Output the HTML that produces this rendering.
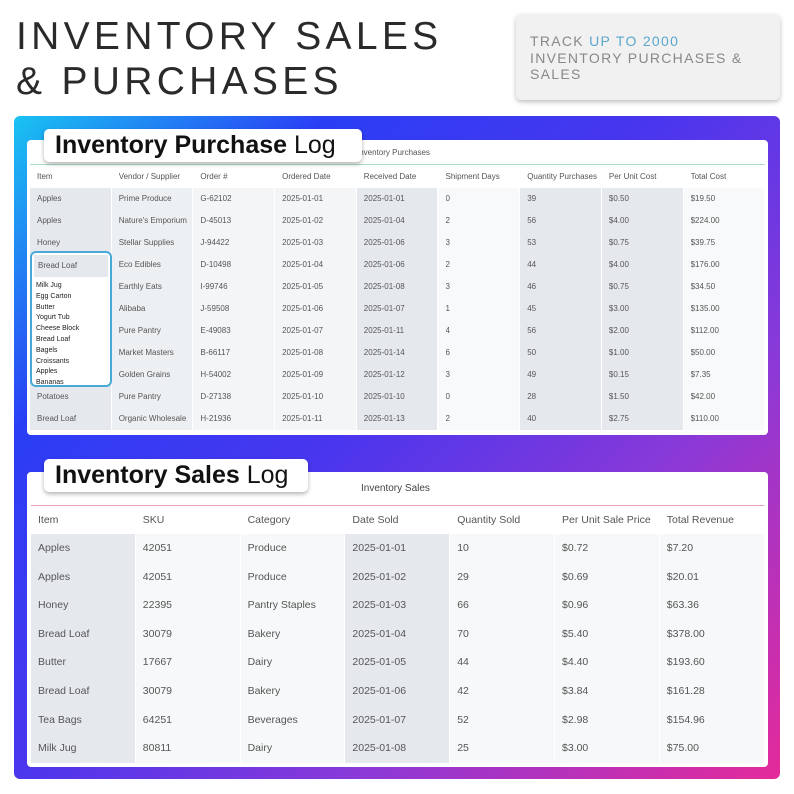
<!DOCTYPE html>
<html><head><meta charset="utf-8"><style>
*{margin:0;padding:0;box-sizing:border-box}
body{width:794px;height:794px;background:#fff;font-family:"Liberation Sans",sans-serif;position:relative;overflow:hidden}
.abs{position:absolute}
#title{left:16px;top:14px;font-size:39px;letter-spacing:4.3px;font-weight:normal;color:#2a2a2a;line-height:45px}
#promo{left:516px;top:14px;width:264px;height:86px;background:#f1f1f1;border-radius:5px;box-shadow:0 2px 5px rgba(0,0,0,.25);padding:19px 14px;font-size:14px;letter-spacing:1.3px;color:#888;line-height:16.5px}
#promo span{color:#5aa7cc}
#panel{left:14px;top:116px;width:766px;height:663px;border-radius:6px;background:linear-gradient(135deg,#19c3f2 0%,#2a3ef5 22%,#4836ee 45%,#8a39d8 70%,#e52a9a 100%)}
.card{left:27px;width:741px;background:#fff;border-radius:4px}
.tab{position:absolute;background:#fff;border-radius:5px;box-shadow:0 2px 4px rgba(0,0,0,.3);color:#111;font-weight:bold;white-space:nowrap}
.tab span{font-weight:normal}
.cell{position:absolute;color:#555;white-space:nowrap;overflow:hidden}
#dd{left:30px;top:251px;width:82px;height:136px;border:2px solid #49a9d6;border-radius:6px;background:#fff;overflow:hidden}
#dd div{font-size:7px;color:#222;line-height:10.8px;padding-left:4px}
</style></head><body>
<div id="title" class="abs">INVENTORY SALES<br>&amp; PURCHASES</div>
<div id="promo" class="abs">TRACK <span>UP TO 2000</span><br>INVENTORY PURCHASES &amp;<br>SALES</div>
<div id="panel" class="abs"></div>
<div id="pcard" class="abs card" style="top:140px;height:295px">
  <div class="abs" style="left:330px;top:8px;font-size:8px;color:#555">Inventory Purchases</div>
  <div class="abs" style="left:3px;right:3px;top:24px;height:1px;background:#a9dcc0"></div>
</div>
<div class="tab" style="left:44px;top:129px;width:318px;height:33px;font-size:25px;padding:2px 11px">Inventory Purchase <span>Log</span></div>
<div id="scard" class="abs card" style="top:472px;height:295px">
  <div class="abs" style="left:334px;top:11px;font-size:10px;color:#444">Inventory Sales</div>
  <div class="abs" style="left:4px;right:4px;top:33px;height:1px;background:#e8a0b0"></div>
</div>
<div class="tab" style="left:44px;top:459px;width:264px;height:33px;font-size:25px;padding:2px 11px">Inventory Sales <span>Log</span></div>
<script>
const pHeaders=["Item","Vendor / Supplier","Order #","Ordered Date","Received Date","Shipment Days","Quantity Purchases","Per Unit Cost","Total Cost"];
const pItems=["Apples","Apples","Honey","Bread Loaf","","","","","","Potatoes","Bread Loaf"];
const pVendors=["Prime Produce","Nature's Emporium","Stellar Supplies","Eco Edibles","Earthly Eats","Alibaba","Pure Pantry","Market Masters","Golden Grains","Pure Pantry","Organic Wholesale"];
const pOrders=["G-62102","D-45013","J-94422","D-10498","I-99746","J-59508","E-49083","B-66117","H-54002","D-27138","H-21936"];
const pOrdered=["2025-01-01","2025-01-02","2025-01-03","2025-01-04","2025-01-05","2025-01-06","2025-01-07","2025-01-08","2025-01-09","2025-01-10","2025-01-11"];
const pReceived=["2025-01-01","2025-01-04","2025-01-06","2025-01-06","2025-01-08","2025-01-07","2025-01-11","2025-01-14","2025-01-12","2025-01-10","2025-01-13"];
const pDays=["0","2","3","2","3","1","4","6","3","0","2"];
const pQty=["39","56","53","44","46","45","56","50","49","28","40"];
const pUnit=["$0.50","$4.00","$0.75","$4.00","$0.75","$3.00","$2.00","$1.00","$0.15","$1.50","$2.75"];
const pTotal=["$19.50","$224.00","$39.75","$176.00","$34.50","$135.00","$112.00","$50.00","$7.35","$42.00","$110.00"];
const sHeaders=["Item","SKU","Category","Date Sold","Quantity Sold","Per Unit Sale Price","Total Revenue"];
const sItems=["Apples","Apples","Honey","Bread Loaf","Butter","Bread Loaf","Tea Bags","Milk Jug"];
const sSku=["42051","42051","22395","30079","17667","30079","64251","80811"];
const sCat=["Produce","Produce","Pantry Staples","Bakery","Dairy","Bakery","Beverages","Dairy"];
const sDate=["2025-01-01","2025-01-02","2025-01-03","2025-01-04","2025-01-05","2025-01-06","2025-01-07","2025-01-08"];
const sQty=["10","29","66","70","44","42","52","25"];
const sUnit=["$0.72","$0.69","$0.96","$5.40","$4.40","$3.84","$2.98","$3.00"];
const sRev=["$7.20","$20.01","$63.36","$378.00","$193.60","$161.28","$154.96","$75.00"];
const dropdownItems=["Milk Jug","Egg Carton","Butter","Yogurt Tub","Cheese Block","Bread Loaf","Bagels","Croissants","Apples","Bananas"];

function table(card,cols,x0,colW,headY,rowY,rowH,fs,shades){
  const hdr=cols[0];
  for(let c=0;c<hdr.length;c++){
    const h=document.createElement('div');h.className='cell';
    
    
    h.style.cssText=`left:${x0+c*colW+7}px;top:${headY}px;font-size:${fs}px;width:${colW-7}px`;
    h.textContent=hdr[c];card.appendChild(h);
    const bg=document.createElement('div');bg.className='cell';
    
    
    const n=cols[1].length;
    bg.style.cssText=`left:${x0+c*colW}px;top:${rowY}px;width:${colW-1}px;height:${rowH*n}px;background:${shades[c]}`;
    card.appendChild(bg);
    for(let r=0;r<n;r++){
      const d=document.createElement('div');d.className='cell';
      
      
      d.style.cssText=`left:${x0+c*colW+7}px;top:${rowY+r*rowH}px;height:${rowH}px;line-height:${rowH}px;font-size:${fs}px;width:${colW-7}px`;
      d.textContent=cols[c+1][r];card.appendChild(d);
    }
  }
}
const pc=document.getElementById('pcard');
table(pc,[pHeaders,pItems,pVendors,pOrders,pOrdered,pReceived,pDays,pQty,pUnit,pTotal],3,81.7,32,48,22,8,
 ["#e5e9ee","#edf0f3","#f4f5f7","#f4f5f7","#e5e9ee","#f8f9fa","#e5e9ee","#e5e9ee","#f8f9fa"]);
const sc=document.getElementById('scard');
table(sc,[sHeaders,sItems,sSku,sCat,sDate,sQty,sUnit,sRev],4,104.8,42,62,28.6,10.5,
 ["#e5e9ee","#f7f8f9","#f7f8f9","#e5e9ee","#f7f8f9","#f7f8f9","#f7f8f9"]);
const dd=document.createElement('div');dd.id='dd';dd.className='abs';


const sel=document.createElement('div');


sel.style.cssText='background:#e5e9ee;height:22px;line-height:22px;font-size:8px;color:#555;margin:2px 2px 4px;padding-left:4px';
sel.textContent='Bread Loaf';dd.appendChild(sel);
for(const t of dropdownItems){const o=document.createElement('div');


o.textContent=t;dd.appendChild(o);}
document.body.appendChild(dd);
</script>
</body></html>
